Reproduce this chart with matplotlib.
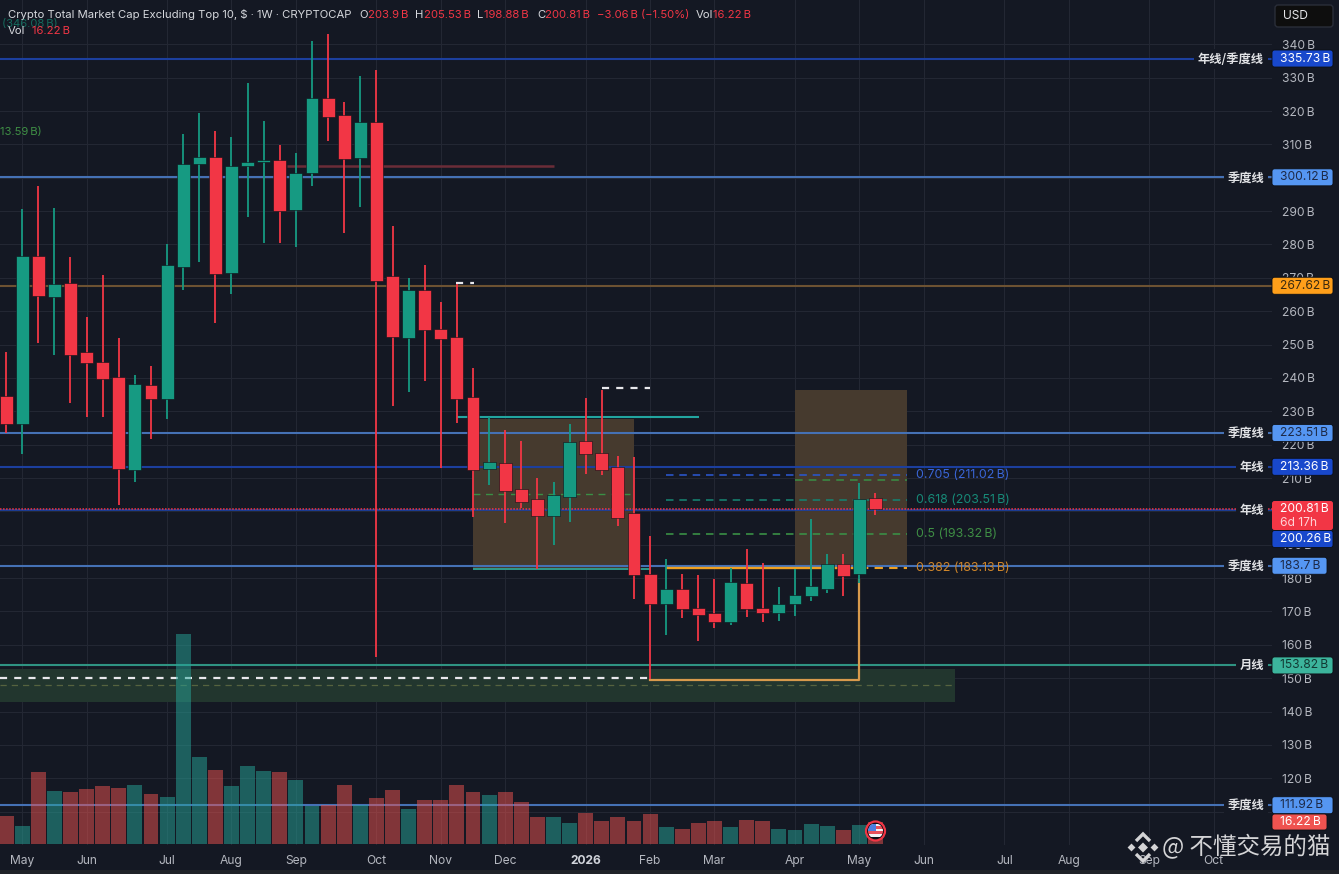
import matplotlib
matplotlib.use("Agg")
import matplotlib.pyplot as plt
from matplotlib.patches import FancyBboxPatch, Rectangle, Circle

W, H = 1339, 874
BG = "#141823"
GRID = "#232733"
UP = "#169a82"
DOWN = "#f23645"
TXT = "#b4b7bf"
SANS = ["Inter", "Noto Sans CJK SC", "DejaVu Sans"]
CJK = ["Noto Sans CJK SC", "DejaVu Sans"]
plt.rcParams["font.family"] = SANS

highs = [247.9,290.7,297.5,291.0,276.3,258.3,270.9,252.0,240.9,243.6,280.2,313.1,319.4,314.0,312.2,328.4,317.0,309.8,307.4,341.0,
         343.1,322.7,330.5,332.3,285.6,270.0,273.9,262.8,268.2,243.0,228.3,224.5,221.2,210.1,208.9,226.2,234.0,236.4,216.7,216.4,
         192.7,185.8,181.3,181.0,179.8,183.1,188.8,184.6,177.4,182.8,197.8,187.3,187.3,208.6,205.53]
opens = [234.7,226.2,276.6,264.3,268.5,247.8,244.8,240.3,212.5,237.9,233.7,273.3,304.1,306.2,271.5,303.5,304.7,305.3,290.4,301.4,
         323.9,318.8,305.9,316.7,270.6,252.0,266.4,254.7,252.3,234.3,212.8,214.6,206.8,203.8,198.7,204.4,221.2,217.6,213.4,199.6,
         181.3,172.3,176.8,171.1,169.6,166.9,178.6,171.1,169.6,172.3,174.7,176.8,184.3,181.3,203.9]
closes = [226.2,276.6,264.6,268.2,246.8,244.5,239.7,212.8,238.2,233.7,273.9,304.1,306.2,271.2,303.5,304.7,305.2,290.0,301.4,323.9,
          318.2,305.6,316.7,269.1,252.3,266.4,254.4,251.7,233.7,212.3,214.9,206.2,202.9,198.7,205.0,220.9,217.3,212.5,198.1,181.0,
          172.3,176.8,170.8,169.0,166.9,178.9,170.8,169.6,172.3,175.0,177.7,184.3,180.7,203.8,200.81]
lows = [223.5,217.3,250.5,246.9,232.5,228.3,228.3,202.0,208.9,221.8,227.8,266.4,274.8,256.5,265.2,288.3,280.5,280.5,279.3,297.5,
        311.0,283.5,291.3,156.4,231.6,235.8,239.1,213.1,226.6,198.2,208.0,196.6,201.1,182.8,190.0,196.9,211.3,211.0,195.7,173.8,
        149.8,163.0,168.1,161.0,165.1,166.0,168.4,166.9,167.2,168.7,173.2,175.6,174.7,178.6,198.88]
volumes = [20.9,13.5,52.9,39.3,38.4,40.3,43.0,41.3,43.7,36.9,34.7,154.9,64.4,54.6,43.0,57.3,53.6,53.1,47.0,28.0,
           28.8,43.7,28.8,33.9,39.6,25.8,32.5,32.2,43.7,38.4,36.1,38.6,30.8,19.7,20.1,15.3,22.9,17.0,20.1,17.2,
           22.3,12.8,11.1,15.5,17.2,12.5,17.7,17.2,11.1,10.5,14.5,13.3,10.5,13.8,16.22]
month_labels = ["May","Jun","Jul","Aug","Sep","Oct","Nov","Dec","2026","Feb","Mar","Apr","May","Jun","Jul","Aug","Sep","Oct"]
month_index = [1,5,10,14,18,23,27,31,36,40,44,49,53,57,62,66,71,75]
price_ticks = list(range(100, 350, 10))
hidden_ticks = [100, 110, 200, 300]   # covered by value boxes in the reference

# horizontal levels: value, colour, side label, box colour, box text colour, narrow box
LIGHT, DARK = "#4571b5", "#1c3f9e"
levels = [
    (335.73, DARK,  "年线/季度线", "#1848cc", "#ffffff", False),
    (300.12, LIGHT, "季度线",      "#5596f2", "#1d2a48", False),
    (267.62, "#6d5232", "",        "#ff9f1a", "#3a2a10", False),
    (223.51, LIGHT, "季度线",      "#5596f2", "#1d2a48", False),
    (213.36, DARK,  "年线",        "#1848cc", "#ffffff", False),
    (183.7,  LIGHT, "季度线",      "#5596f2", "#1d2a48", True),
    (153.82, "#2f9382", "月线",    "#3cb49c", "#123a34", False),
    (111.92, LIGHT, "季度线",      "#5596f2", "#1d2a48", False),
]
last_close, vwap_level = 200.81, 200.26
fibs = [(0.705, 211.02, "#2a55c8", "#3a66d8"), (0.618, 203.51, "#177f6e", "#178a78"), (0.5, 193.32, "#3a8f45", "#3f8f45")]
fib_base = (0.382, 183.13, "#f0a020", "#d0862a")

fig = plt.figure(figsize=(W / 100, H / 100), dpi=100, facecolor=BG)
PANE_R, PANE_B = 1272, 845
rect = [0, 1 - PANE_B / H, PANE_R / W, PANE_B / H]
ax = fig.add_axes(rect, facecolor=BG)
vol = fig.add_axes(rect, facecolor="none", sharex=ax)
pix = fig.add_axes([0, 0, 1, 1], facecolor="none")
pix.set_xlim(0, W); pix.set_ylim(H, 0); pix.axis("off")

xi = lambda px: (px - 6.1) / 16.1           # bar index for a screen column
ax.set_xlim(xi(0), xi(PANE_R))
ax.set_ylim(353.27 - 0.29958 * PANE_B, 353.27)
vol.set_ylim(-1 / 1.356, 844 / 1.356)
vol.axis("off")

for s in ax.spines.values():
    s.set_visible(False)
ax.set_xticks(month_index, month_labels)
ax.set_yticks(price_ticks, [f"{v}\u2009B" if v not in hidden_ticks else "" for v in price_ticks])
ax.yaxis.tick_right()
ax.tick_params(axis="both", length=0, colors=TXT, labelsize=8.7)
ax.tick_params(axis="y", pad=7)
ax.tick_params(axis="x", pad=7)
ax.grid(True, color=GRID, lw=0.8, zorder=0)
ax.set_axisbelow(True)
for t in ax.get_xticklabels():
    if t.get_text() == "2026":
        t.set_fontweight("bold"); t.set_color("#d0d3da")

# zones
TAN = "#463a2e"
ax.axhspan(353.27 - 0.29958 * 569, 353.27 - 0.29958 * 419, xmin=473 / PANE_R, xmax=634 / PANE_R, color=TAN, lw=0, zorder=1)
ax.axhspan(353.27 - 0.29958 * 567, 353.27 - 0.29958 * 390, xmin=795 / PANE_R, xmax=907 / PANE_R, color=TAN, lw=0, zorder=1)
ax.axhspan(142.9, 152.85, xmin=0, xmax=955 / PANE_R, color="#22362e", lw=0, zorder=1)

# level lines
for v, c, *_ in levels:
    ax.axhline(v, color=c, lw=1.5, zorder=2)
ax.axhline(vwap_level, color=DARK, lw=1.3, zorder=2)
ax.axhline(last_close, color=DOWN, lw=1.1, ls=(0, (1, 1)), zorder=2.2)

# drawn structures
ax.hlines(148.0, xi(0), xi(955), color="#56633f", lw=0.9, ls=(0, (5, 4)), zorder=2)
ax.hlines(150.1, xi(0), xi(648), color="#e8e8ec", lw=1.6, ls=(0, (3.2, 3.2)), zorder=2.5)
ax.hlines(237.0, xi(602), xi(650), color="#e8e8ec", lw=1.6, ls=(0, (3.2, 3.2)), zorder=2.5)
ax.hlines(268.3, xi(456), xi(474), color="#e8e8ec", lw=1.6, ls=(0, (3.2, 3.2)), zorder=2.5)
ax.hlines(228.4, xi(457), xi(699), color="#22a5a0", lw=1.5, zorder=2.5)
ax.hlines(182.7, xi(473), xi(650), color="#2f9a8a", lw=1.4, zorder=2.5)
ax.hlines(303.4, xi(287), xi(554), color="#6b2c38", lw=1.8, zorder=2)
ax.hlines(205.3, xi(473), xi(634), color="#3a8f45", lw=1.0, ls=(0, (5, 4)), zorder=2)
ax.hlines(209.5, xi(795), xi(907), color="#3a8f45", lw=1.1, ls=(0, (5, 4)), zorder=2)
for ratio, v, c, tc in fibs:
    ax.hlines(v, xi(666), xi(907), color=c, lw=1.2, ls=(0, (4.5, 3.5)), zorder=2.4)
ax.hlines(fib_base[1], xi(666), xi(860), color=fib_base[2], lw=1.7, zorder=2.4)
ax.hlines(fib_base[1], xi(860), xi(907), color=fib_base[2], lw=1.5, ls=(0, (4, 3)), zorder=2.4)
ax.plot([40, 40, 53, 53], [149.5, 149.5, 149.5, 179.5], color="#d89a4c", lw=1.6, zorder=2.6)

# candles and volume
n = range(len(opens))
colors = [UP if c >= o else DOWN for o, c in zip(opens, closes)]
ax.vlines(list(n), lows, highs, colors=colors, lw=1.3, zorder=3)
ax.bar(list(n), [c - o for o, c in zip(opens, closes)], bottom=opens, width=0.8, color=colors,
       edgecolor="#0c0f16", linewidth=0.4, zorder=3.2)
vol_colors = ["#26a69a" if c >= o else "#ef5350" for o, c in zip(opens, closes)]
vol.bar(list(n), volumes, width=0.92, color=vol_colors, alpha=0.5, linewidth=0)

# screen helper
def sy(v, axis=ax):
    return H - axis.transData.transform((0, v))[1]

def box(y, color, text, tc, narrow=False, h=17, text_y=None):
    right = 1327 if narrow else 1333
    pix.add_patch(FancyBboxPatch((1272, y - h / 2), right - 1272, h, boxstyle="round,pad=0,rounding_size=2.5",
                                 fc=color, ec="#0c0f16", lw=0.6, zorder=6))
    pix.text(1280, y if text_y is None else text_y, text, color=tc, fontsize=8.7, va="center", ha="left", zorder=7)

def side(y, text):
    pix.text(1264, y + 0.5, text, color="#e2e3e6", fontsize=8.8, va="center", ha="right", family=CJK, fontweight="bold",
             bbox=dict(fc=BG, ec="none", pad=2.6), zorder=5)

for v, c, lab, bc, tc, narrow in levels:
    y = sy(v)
    if lab:
        side(y, lab)
    box(y, bc, f"{v}\u2009B", tc, narrow)
side(sy(vwap_level), "年线")

# last price stack
pix.add_patch(FancyBboxPatch((1272, 501), 61, 29, boxstyle="round,pad=0,rounding_size=2.5", fc=DOWN, ec="none", zorder=6))
pix.text(1280, 509, f"{last_close}\u2009B", color="#ffffff", fontsize=8.7, va="center", zorder=7)
pix.text(1280, 522.5, "6d 17h", color="#ffd3d7", fontsize=8.7, va="center", zorder=7)
box(539, "#1848cc", f"{vwap_level}\u2009B", "#ffffff")
box(sy(volumes[-1], vol), "#ef5350", f"{volumes[-1]}\u2009B", "#ffffff", narrow=True, h=16)

# fib labels
for ratio, v, c, tc in fibs + [fib_base]:
    pix.text(916, sy(v) + 0.5, f"{ratio} ({v}\u2009B)", color=tc, fontsize=8.9, va="center", ha="left", zorder=5)

# header
HEAD = 8.15
pix.text(8, 15, "Crypto Total Market Cap Excluding Top 10, $ · 1W · CRYPTOCAP", color="#d6d8dd", fontsize=HEAD, va="center", zorder=8)
segs = [(359, "O", "#d6d8dd"), (368.3, "203.9\u2009B", DOWN), (415, "H", "#d6d8dd"), (424, "205.53\u2009B", DOWN),
        (477, "L", "#d6d8dd"), (484, "198.88\u2009B", DOWN), (537, "C", "#d6d8dd"), (545, "200.81\u2009B", DOWN),
        (597, "\u22123.06\u2009B (\u22121.50%)", DOWN), (696, "Vol", "#d6d8dd"), (713, "16.22\u2009B", DOWN)]
for x, s, c in segs:
    pix.text(x, 15, s, color=c, fontsize=HEAD, va="center", zorder=8)
pix.text(2, 24, "(346.08\u2009B)", color="#156a5c", fontsize=HEAD, va="center", zorder=4)
pix.text(8, 31, "Vol", color="#d6d8dd", fontsize=HEAD, va="center", zorder=8)
pix.text(32, 31, "16.22\u2009B", color=DOWN, fontsize=HEAD, va="center", zorder=8)
pix.text(0, 132, "13.59\u2009B)", color="#3f8f45", fontsize=HEAD, va="center", zorder=4)

# currency button
pix.add_patch(FancyBboxPatch((1275, 5), 58, 22, boxstyle="round,pad=0,rounding_size=3", fc="#0e0e0e", ec="#2a2e39", lw=1, zorder=6))
pix.text(1283, 16, "USD", color="#e6e7ea", fontsize=8.6, va="center", zorder=7)

# event marker
cx, cy = 875.5, 831
clip = Circle((cx, cy), 7.5, transform=pix.transData)
pix.add_patch(Circle((cx, cy), 9.5, fc="#0c0f16", ec=DOWN, lw=1.6, zorder=8))
for i, c in enumerate(["#f2f2f4", "#e8505b", "#f2f2f4", "#e8505b", "#f2f2f4"]):
    r = pix.add_patch(Rectangle((cx - 8, cy - 7.5 + i * 2.6), 16, 2.6, fc=c, ec="none", zorder=9))
    r.set_clip_path(clip)
r = pix.add_patch(Rectangle((cx - 8, cy - 7.5), 8, 7, fc="#4c7fe0", ec="none", zorder=10))
r.set_clip_path(clip)

# bottom strip and watermark
WM = "#d4d4d6"
pix.add_patch(Rectangle((0, 870), W, 4, fc="#202228", ec="none", zorder=4))
pix.scatter([1143, 1131.5, 1154.5], [847.5, 847.5, 847.5], marker="D", s=[26, 16, 16], color=WM, zorder=9, linewidths=0)
pix.plot([1136, 1143, 1150], [841, 834, 841], color=WM, lw=2.4, zorder=9, solid_joinstyle="miter", solid_capstyle="butt")
pix.plot([1136, 1143, 1150], [854, 861, 854], color=WM, lw=2.4, zorder=9, solid_joinstyle="miter", solid_capstyle="butt")
pix.set_xlim(0, W); pix.set_ylim(H, 0)
pix.text(1162, 847, "@ 不懂交易的猫", color=WM, fontsize=16.9, va="center", ha="left", family=CJK, fontweight="light", zorder=9)

fig.savefig("out.png", dpi=100, facecolor=BG)
